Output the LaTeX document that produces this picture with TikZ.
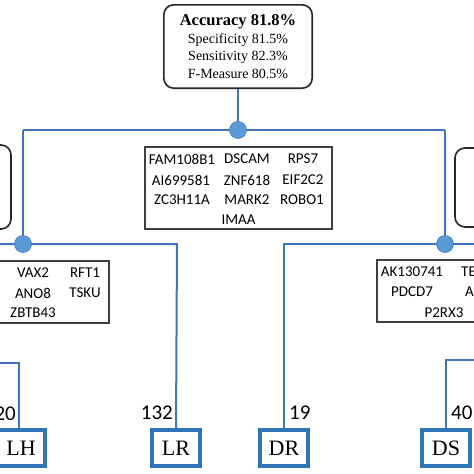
\documentclass[tikz,border=0pt]{standalone}
\usepackage{fontspec}
\setmainfont{Liberation Serif}
\newfontfamily\genefont{Carlito}
\definecolor{lineblue}{HTML}{4472C4}
\definecolor{dotblue}{HTML}{5B9BD5}
\definecolor{boxblue}{HTML}{2E75B6}
\definecolor{boxgray}{HTML}{404040}
\begin{document}
\begin{tikzpicture}[x=1pt,y=-1pt,
  link/.style={draw=lineblue,line width=2pt},
  dot/.style={circle,fill=dotblue,draw=lineblue,line width=0.6pt,minimum size=17pt,inner sep=0pt},
  leaf/.style={draw=boxblue,line width=4pt,minimum width=48pt,minimum height=36pt,inner sep=0pt,fill=white,font=\fontsize{22}{24}\selectfont},
  gene/.style={font=\genefont\fontsize{15}{17}\selectfont,inner sep=0pt},
  genebox/.style={draw=boxgray,line width=1.3pt,fill=white,inner sep=0pt},
  metricbox/.style={draw=black!85,line width=1.6pt,rounded corners=10pt,fill=white,inner sep=0pt},
  count/.style={font=\genefont\fontsize{21}{23}\selectfont,inner sep=0pt}
]
\clip (0,0) rectangle (474,474);
\fill[white] (0,0) rectangle (474,474);

% top metric box
\node[metricbox,minimum width=148.4pt,minimum height=83.4pt,align=center,
  font=\fontsize{14}{17.5}\selectfont] (top) at (238,46.5)
  {{\fontsize{16.5}{17.5}\selectfont\bfseries Accuracy 81.8\%}\\Specificity 81.5\%\\Sensitivity 82.3\%\\F-Measure 80.5\%};

% partial side boxes
\node[metricbox,minimum width=110pt,minimum height=84pt] (sideL) at (-44,187) {};
\node[metricbox,minimum width=110pt,minimum height=79pt] (sideR) at (510,187.5) {};

% junctions
\coordinate (jL) at (23,130);
\coordinate (jR) at (445,130);
\coordinate (offL) at (-5,244);
\coordinate (kLR) at (177,244);
\coordinate (kDR) at (284,244);
\coordinate (offR) at (480,244);
\coordinate (offLH) at (-5,363);
\coordinate (kLH) at (19,363);
\coordinate (offDS) at (480,360);
\coordinate (kDS) at (446,360);

% leaves
\node[leaf] (LH) at (21,448) {LH};
\node[leaf] (LR) at (176,448) {LR};
\node[leaf] (DR) at (284,448) {DR};
\node[leaf] (DS) at (446,448) {DS};

% dots (positions)
\coordinate (d0c) at (238,130);
\coordinate (dLc) at (23,244);
\coordinate (dRc) at (445,244);

% connectors
\draw[link] (top.south) -- (d0c);
\draw[link] (jL) -- (jR);
\draw[link] (jL) -- (dLc);
\draw[link] (jR) -- (dRc);
\draw[link] (offL) -- (kLR) -- (LR.north);
\draw[link] (offR) -- (kDR) -- (DR.north);
\draw[link] (offLH) -- (kLH) -- (kLH |- LH.north);
\draw[link] (offDS) -- (kDS) -- (DS.north);

\node[dot] (d0) at (d0c) {};
\node[dot] (dL) at (dLc) {};
\node[dot] (dR) at (dRc) {};

% middle gene box
\node[genebox,minimum width=187pt,minimum height=82pt] (gmid) at (238.5,188) {};
\node[gene] (g1) at (182,159) {FAM108B1};
\node[gene] (g2) at (247,159) {DSCAM};
\node[gene] (g3) at (303,159) {RPS7};
\node[gene] (g4) at (181,180) {AI699581};
\node[gene] (g5) at (247,180) {ZNF618};
\node[gene] (g6) at (303,180) {EIF2C2};
\node[gene] (g7) at (182,200) {ZC3H11A};
\node[gene] (g8) at (247,200) {MARK2};
\node[gene] (g9) at (302,200) {ROBO1};
\node[gene] (g10) at (238.5,220) {IMAA};

% left gene box
\node[genebox,minimum width=129pt,minimum height=62pt] (gleft) at (44.5,292) {};
\node[gene] (l1) at (33,273) {VAX2};
\node[gene] (l2) at (85,273) {RFT1};
\node[gene] (l3) at (33,293) {ANO8};
\node[gene] (l4) at (85,293) {TSKU};
\node[gene] (l5) at (33,313) {ZBTB43};

% right gene box
\node[genebox,minimum width=123pt,minimum height=62pt] (gright) at (438.5,291) {};
\node[gene] (r1) at (412,272) {AK130741};
\node[gene,anchor=west] (r2) at (461,272) {TE};
\node[gene] (r3) at (412,292) {PDCD7};
\node[gene,anchor=west] (r4) at (465,292) {A};
\node[gene] (r5) at (444,313) {P2RX3};

% counts
\node[count,anchor=east] (c1) at (16,414) {20};
\node[count,anchor=east] (c2) at (173,413) {132};
\node[count,anchor=west] (c3) at (289,413) {19};
\node[count,anchor=west] (c4) at (451,413) {40};
\end{tikzpicture}
\end{document}
